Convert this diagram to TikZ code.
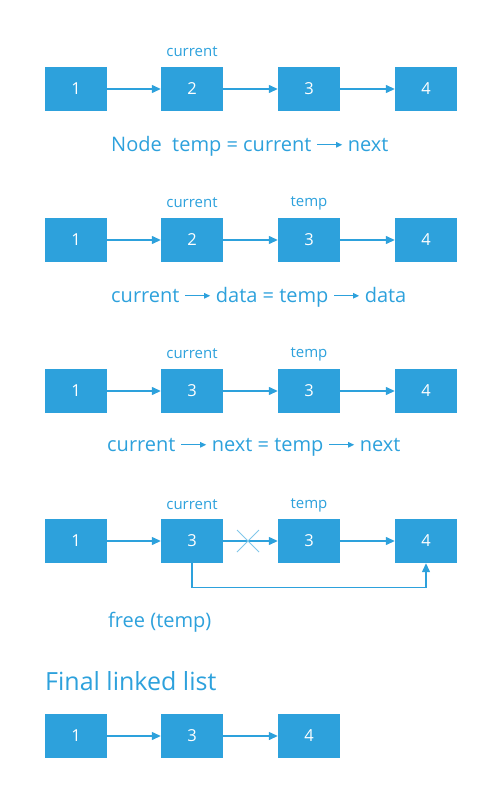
\documentclass[tikz,border=0pt]{standalone}
\usepackage{fontspec}
\setmainfont{Open Sans}
\usetikzlibrary{arrows.meta}
\definecolor{blu}{HTML}{2DA1DC}
\newcommand\rarr{\tikz[baseline=-0.6ex]\draw[color=blu,line width=1pt,-{Triangle[length=6pt,width=5.5pt]}](0pt,0pt)--(25pt,0pt);}
\begin{document}
\begin{tikzpicture}[x=1pt,y=-1pt,
 box/.style={fill=blu,text=white,minimum width=62pt,minimum height=44pt,inner sep=0pt,font=\fontsize{16.5}{16.5}\selectfont},
 link/.style={color=blu,line width=1.3pt,-{Triangle[length=9pt,width=8pt]}},
 lbl/.style={text=blu,font=\fontsize{15}{15}\selectfont},
 eq/.style={text=blu,font=\fontsize{20}{20}\selectfont,anchor=west,inner sep=0pt}]
\useasboundingbox (0,0) rectangle (500,800);
% row 1
\node[box] (a1) at (76,89) {1};
\node[box] (a2) at (192,89) {2};
\node[box] (a3) at (309,89) {3};
\node[box] (a4) at (426,89) {4};
\draw[link] (a1) -- (a2);
\draw[link] (a2) -- (a3);
\draw[link] (a3) -- (a4);
\node[lbl] (la) at (192,52) {current};
\node[eq] (ta) at (111,146) {Node\ \ temp = current \rarr\ next};
% row 2
\node[box] (b1) at (76,240) {1};
\node[box] (b2) at (192,240) {2};
\node[box] (b3) at (309,240) {3};
\node[box] (b4) at (426,240) {4};
\draw[link] (b1) -- (b2);
\draw[link] (b2) -- (b3);
\draw[link] (b3) -- (b4);
\node[lbl] (lb1) at (192,203) {current};
\node[lbl] (lb2) at (309,203) {temp};
\node[eq] (tb) at (111,297) {current \rarr\ data = temp \rarr\ data};
% row 3
\node[box] (c1) at (76,391) {1};
\node[box] (c2) at (192,391) {3};
\node[box] (c3) at (309,391) {3};
\node[box] (c4) at (426,391) {4};
\draw[link] (c1) -- (c2);
\draw[link] (c2) -- (c3);
\draw[link] (c3) -- (c4);
\node[lbl] (lc1) at (192,354) {current};
\node[lbl] (lc2) at (309,354) {temp};
\node[eq] (tc) at (107,447) {current \rarr\ next = temp \rarr\ next};
% row 4
\node[box] (d1) at (76,541) {1};
\node[box] (d2) at (192,541) {3};
\node[box] (d3) at (309,541) {3};
\node[box] (d4) at (426,541) {4};
\draw[link] (d1) -- (d2);
\draw[link] (d2) -- (d3);
\draw[link] (d3) -- (d4);
\draw[link] (d2.south) -- ++(0,24) -| (d4.south);
\coordinate (xc) at (248,541);
\draw[blu!60,line width=0.8pt] ([shift={(-11,-11)}]xc) -- ([shift={(11,11)}]xc);
\draw[blu!60,line width=0.8pt] ([shift={(-11,11)}]xc) -- ([shift={(11,-11)}]xc);
\node[lbl] (ld1) at (192,505) {current};
\node[lbl] (ld2) at (309,505) {temp};
\node[eq] (td) at (108,622) {free (temp)};
% final
\node[text=blu,font=\fontsize{25}{25}\selectfont,anchor=west,inner sep=0pt] (fin) at (45,681) {Final linked list};
\node[box] (e1) at (76,736) {1};
\node[box] (e2) at (192,736) {3};
\node[box] (e3) at (309,736) {4};
\draw[link] (e1) -- (e2);
\draw[link] (e2) -- (e3);
\end{tikzpicture}
\end{document}
